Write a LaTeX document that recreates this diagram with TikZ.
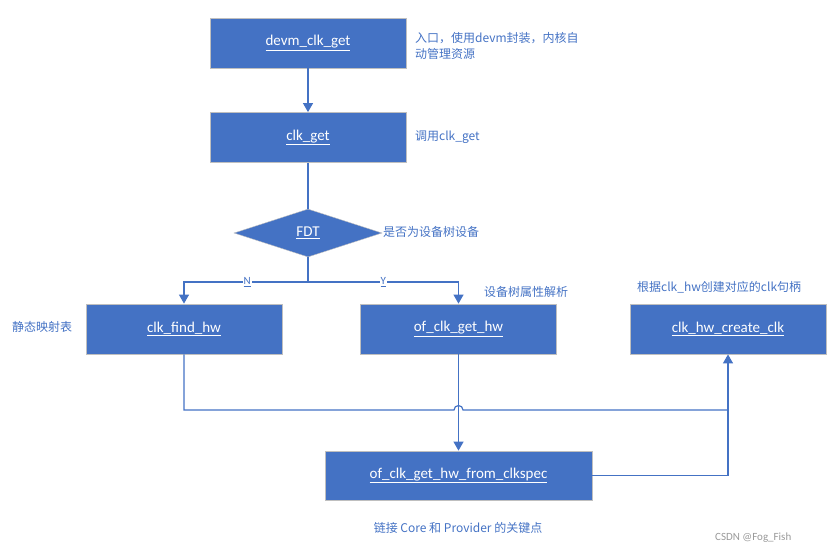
\documentclass[tikz,border=0pt]{standalone}
\usepackage{fontspec}
\setmainfont{Carlito}
\newfontfamily\cjk{Noto Sans CJK SC}
\usetikzlibrary{shapes.geometric,arrows.meta}
\definecolor{bl}{HTML}{4472C4}
\begin{document}
\begin{tikzpicture}[x=1pt,y=-1pt,
  box/.style={draw=black!25,fill=bl,text=white,minimum width=196pt,minimum height=50pt,inner sep=0pt,font=\fontsize{15}{15}\selectfont,line width=0.8pt},
  note/.style={text=bl,font=\cjk\fontsize{12}{16}\selectfont,inner sep=0pt,anchor=west,align=left},
  ln/.style={draw=bl,line width=1.2pt},
  arr/.style={ln,-{Triangle[length=9pt,width=10pt]}}]
\useasboundingbox (0,0) rectangle (840,554);
\node[box] (a) at (308,43) {\underline{devm\_clk\_get}};
\node[box] (b) at (308,137.5) {\underline{clk\_get}};
\node[diamond,draw=black!25,fill=bl,text=white,minimum width=148pt,minimum height=48pt,aspect=3.1,inner sep=0pt,font=\fontsize{15}{15}\selectfont] (d) at (308,233) {\underline{FDT}};
\node[box] (f) at (184,329) {\underline{clk\_find\_hw}};
\node[box] (o) at (458.5,329) {\underline{of\_clk\_get\_hw}};
\node[box] (c) at (728,329) {\underline{clk\_hw\_create\_clk}};
\node[box,minimum width=267pt,minimum height=49pt] (s) at (458.5,475.5) {\underline{of\_clk\_get\_hw\_from\_clkspec}};
\coordinate (j) at (308,282);
\draw[arr] (a) -- (b);
\draw[ln] (b) -- (d);
\draw[ln] (d) -- (j);
\draw[arr] (j) -- node[pos=0.49,fill=white,inner sep=1pt,text=bl,font=\fontsize{11}{11}\selectfont]{\underline{N}} (184,282) -- (f.north);
\draw[arr] (j) -- node[pos=0.5,fill=white,inner sep=1pt,text=bl,font=\fontsize{11}{11}\selectfont]{\underline{Y}} (458.5,282) -- (o.north);
\draw[arr] (o) -- (s);
\draw[ln] (f.south) -- (184,410) -- (454,410) arc[start angle=180,end angle=0,radius=4.5pt] -- (728,410);
\draw[arr] (s.east) -- (728,475.5) -- (c.south);
\node[note] (n1) at (415,46) {入口，使用devm封装，内核自\\动管理资源};
\node[note] (n2) at (415,137) {调用clk\_get};
\node[note] (n3) at (383,232) {是否为设备树设备};
\node[note] (n4) at (484,292) {设备树属性解析};
\node[note] (n5) at (12,327) {静态映射表};
\node[note] (n6) at (637,287) {根据clk\_hw创建对应的clk句柄};
\node[note,anchor=center] (n7) at (458,528) {链接 Core 和 Provider 的关键点};
\node[note,text=black!40,font=\fontsize{11}{11}\selectfont] (w) at (715,538) {CSDN @Fog\_Fish};
\end{tikzpicture}
\end{document}
